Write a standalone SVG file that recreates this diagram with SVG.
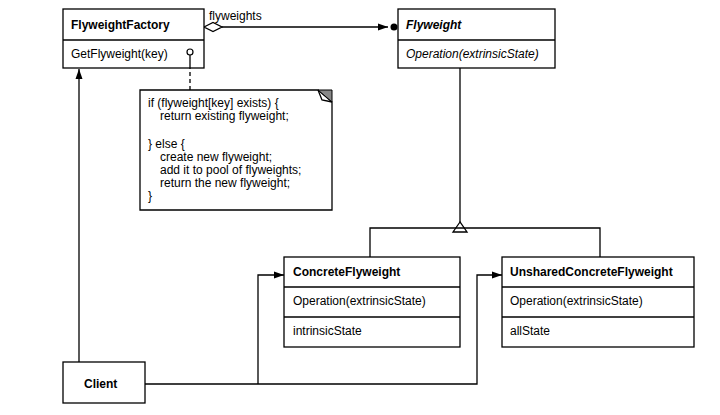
<svg xmlns="http://www.w3.org/2000/svg" width="720" height="415" viewBox="0 0 720 415">
<style>
.b{fill:#fff;stroke:#000;stroke-width:1.3}
.l{fill:none;stroke:#000;stroke-width:1.3}
text{font-family:"Liberation Sans",Arial,sans-serif;font-size:12px;fill:#000}
.t{font-weight:bold}
.i{font-style:italic}
</style>
<defs>
<marker id="a" markerWidth="10" markerHeight="8" refX="10" refY="4" orient="auto" markerUnits="userSpaceOnUse"><path d="M0,0.5 L10,4 L0,7.5z"/></marker>
</defs>
<rect width="720" height="415" fill="#fff"/>
<g id="connectors">
<path class="l" d="M222,27 H388" marker-end="url(#a)"/>
<circle cx="394" cy="27" r="3.5"/>
<path class="l" d="M204,27 L213,22.5 L222,27 L213,31.5z"/>
<text x="209" y="20">flyweights</text>
<path class="l" d="M190,58 V90" stroke-dasharray="4,3"/>
<path class="l" d="M460,68 V222"/>
<path class="l" d="M460,222 L453,232 H467z"/>
<path class="l" d="M370,257 V228 H600 V257"/>
<path class="l" d="M79,362 V69" marker-end="url(#a)"/>
<path class="l" d="M145,384 H477 V275 H502" marker-end="url(#a)"/>
<path class="l" d="M258,384 V275 H284" marker-end="url(#a)"/>
</g>
<g id="FlyweightFactory">
<rect class="b" x="63" y="9" width="141" height="59"/>
<line class="l" x1="63" y1="40" x2="204" y2="40"/>
<text class="t" x="71" y="29">FlyweightFactory</text>
<text x="71" y="58">GetFlyweight(key)</text>
<circle cx="190" cy="52" r="3" fill="#fff" stroke="#000" stroke-width="1.2"/>
<line class="l" x1="190" y1="55" x2="190" y2="68"/>
</g>
<g id="note">
<path class="b" d="M140,90 H318 L332,102 V210 H140z"/>
<path d="M318,90 L332,90 L332,102z" fill="#888" stroke="#000"/>
<path class="l" d="M318,90 L322,100 L332,102"/>
<text x="148" y="107">if (flyweight[key] exists) {</text>
<text x="160" y="120">return existing flyweight;</text>
<text x="148" y="148">} else {</text>
<text x="160" y="161">create new flyweight;</text>
<text x="160" y="174">add it to pool of flyweights;</text>
<text x="160" y="187">return the new flyweight;</text>
<text x="148" y="200">}</text>
</g>
<g id="Flyweight">
<rect class="b" x="398" y="9" width="157" height="59"/>
<line class="l" x1="398" y1="40" x2="555" y2="40"/>
<text class="t i" x="406" y="29">Flyweight</text>
<text class="i" x="406" y="58">Operation(extrinsicState)</text>
</g>
<g id="ConcreteFlyweight">
<rect class="b" x="284" y="257" width="176" height="90"/>
<line class="l" x1="284" y1="287" x2="460" y2="287"/>
<line class="l" x1="284" y1="317" x2="460" y2="317"/>
<text class="t" x="293" y="276">ConcreteFlyweight</text>
<text x="293" y="305">Operation(extrinsicState)</text>
<text x="293" y="335">intrinsicState</text>
</g>
<g id="UnsharedConcreteFlyweight">
<rect class="b" x="502" y="257" width="192" height="90"/>
<line class="l" x1="502" y1="287" x2="694" y2="287"/>
<line class="l" x1="502" y1="317" x2="694" y2="317"/>
<text class="t" x="510" y="276">UnsharedConcreteFlyweight</text>
<text x="510" y="305">Operation(extrinsicState)</text>
<text x="510" y="335">allState</text>
</g>
<g id="Client">
<rect class="b" x="63" y="362" width="82" height="41"/>
<text class="t" x="84" y="388">Client</text>
</g>
</svg>
